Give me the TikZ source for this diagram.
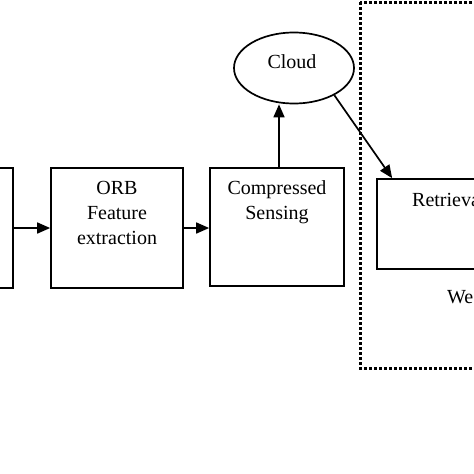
\documentclass[tikz,border=0pt]{standalone}
\usepackage{fontspec}
\setmainfont{Liberation Serif}
\usetikzlibrary{positioning,arrows.meta,shapes.geometric}
\tikzset{
  block/.style={draw, line width=1.7pt, minimum width=132pt, minimum height=120pt, inner sep=0pt},
  blocktext/.style={align=center, inner sep=0pt},
  arr/.style={line width=1.7pt, -{Triangle[length=13pt,width=11pt]}},
  group/.style={line width=3pt, dash pattern=on 2.6pt off 2.4pt}
}
\begin{document}
\begin{tikzpicture}[x=1pt, y=-1pt, font=\fontsize{20}{25}\selectfont]
\useasboundingbox (0,0) rectangle (474,474);
\clip (0,0) rectangle (474,474);

\draw[group] (360,2) rectangle (540,368);

\node[block, minimum width=124pt] (input) at (-49,228) {};
\node[block] (orb) at (117,228) {};
\node[block, minimum width=134pt, minimum height=118pt] (cs) at (277,227) {};
\node[draw, ellipse, line width=1.7pt, minimum width=120pt, minimum height=71pt] (cloud) at (294,68) {};
\node[block, minimum width=160pt, minimum height=90pt] (ret) at (457,224) {};

\node[blocktext, below=14pt of orb.north] (orbtext) {ORB\\Feature\\extraction};
\node[blocktext, below=13pt of cs.north] (cstext) {Compressed\\Sensing};
\node[blocktext] (cloudtext) at (292,62) {Cloud};
\node[anchor=west, inner sep=0pt] (rettext) at (412,200) {Retrieva};
\node[anchor=west, inner sep=0pt] (webtext) at (447,297) {We};

\draw[arr] (input) -- (orb);
\draw[arr] (orb.east) -- (orb.east -| cs.west);
\draw[arr] ([xshift=2pt]cs.north) -- ([xshift=2pt]cs.north |- cloud.south);
\draw[arr] (cloud.-34) -- ([xshift=16pt]ret.north west);

\end{tikzpicture}
\end{document}
